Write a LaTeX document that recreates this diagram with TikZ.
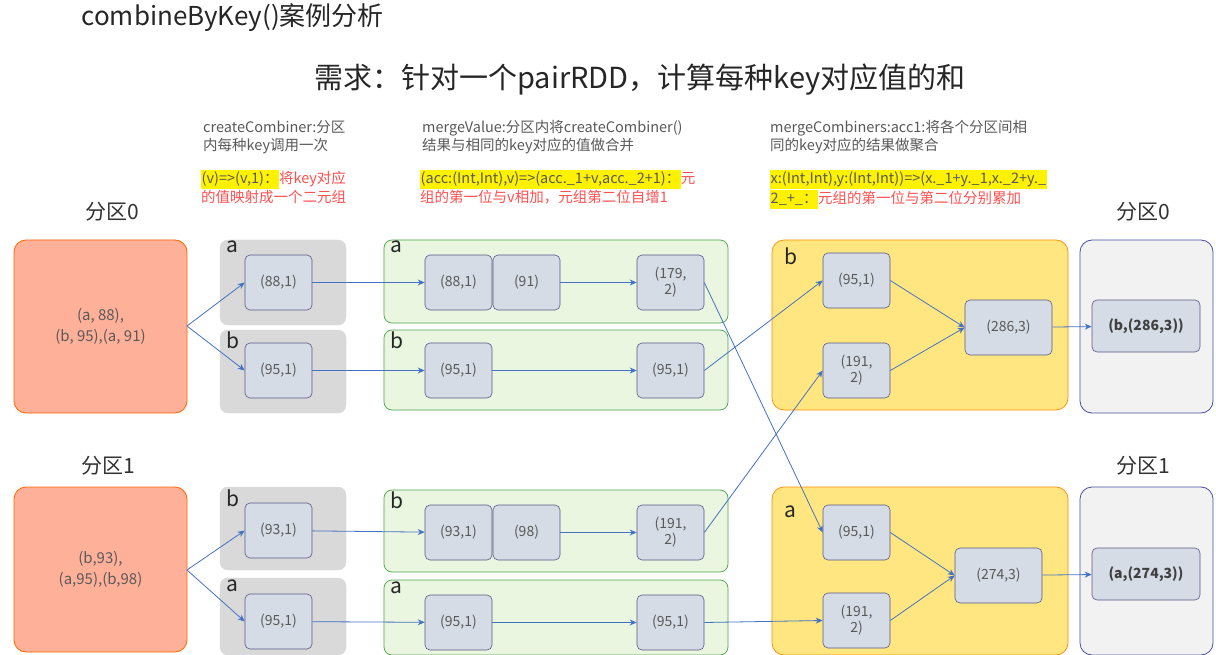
\documentclass[tikz,border=0pt]{standalone}
\usepackage{fontspec}
\setmainfont{Noto Sans CJK SC}
\usetikzlibrary{arrows.meta}
\definecolor{ablue}{HTML}{4472C4}
\definecolor{txt}{HTML}{595959}
\definecolor{rtxt}{HTML}{FF5050}
\definecolor{smfill}{HTML}{D6DCE5}
\setlength{\fboxsep}{0.5pt}
\newcommand{\hly}[1]{\colorbox{yellow}{\strut #1}}
\begin{document}
\begin{tikzpicture}[x=1pt,y=-1pt,
 part/.style={draw=#1,line width=0.8pt,rounded corners=12pt},
 sm/.style={draw=black!40!blue!30!gray,fill=smfill,line width=0.6pt,rounded corners=5pt,inner sep=1pt,font=\fontsize{14}{16}\selectfont,text=txt,align=center},
 arr/.style={-{Stealth[length=7pt,width=6pt]},draw=ablue,line width=0.8pt},
 lab/.style={font=\fontsize{21}{23}\selectfont,text=black!80},
 let/.style={font=\fontsize{21}{23}\selectfont,text=black!85,anchor=north west,inner sep=0pt},
 ann/.style={anchor=north west,align=left,font=\fontsize{14.5}{18}\selectfont,inner sep=0pt}]
\useasboundingbox (0,0) rectangle (1216,655);
\fill[white] (0,0) rectangle (1216,655);
% titles
\node[anchor=west,font=\fontsize{26}{30}\selectfont,text=black!85] (title) at (78,18) {combineByKey()案例分析};
\node[font=\fontsize{29}{34}\selectfont,text=black!85] (req) at (640,80) {需求：针对一个pairRDD，计算每种key对应值的和};
% annotations
\node[ann,text=txt] (c1) at (203,120) {createCombiner:分区\\内每种key调用一次};
\node[ann,text=rtxt] (c2) at (201,170) {\hly{\textcolor{txt}{(v)=>(v,1)：}}将key对应\\的值映射成一个二元组};
\node[ann,text=txt] (m1) at (422,120) {mergeValue:分区内将createCombiner()\\结果与相同的key对应的值做合并};
\node[ann,text=rtxt] (m2) at (420,170) {\hly{\textcolor{txt}{(acc:(Int,Int),v)=>(acc.\_1+v,acc.\_2+1)：}}元\\组的第一位与v相加，元组第二位自增1};
\node[ann,text=txt] (k1) at (770,120) {mergeCombiners:acc1:将各个分区间相\\同的key对应的结果做聚合};
\node[ann,text=rtxt] (k2) at (770,170) {\hly{\textcolor{txt}{x:(Int,Int),y:(Int,Int))=>(x.\_1+y.\_1,x.\_2+y.\_}}\\\hly{\textcolor{txt}{2\_+\_：}}元组的第一位与第二位分别累加};
% labels
\node[lab] (l0) at (112,212) {分区0};
\node[lab] (l1) at (108,466) {分区1};
\node[lab] (r0) at (1143,212) {分区0};
\node[lab] (r1) at (1143,466) {分区1};
% partitions
\node[part=orange!80!red,fill=orange!45!red!40,minimum width=173pt,minimum height=173pt,align=center,font=\fontsize{15}{21}\selectfont,text=txt] (p0) at (100.5,326.5) {(a, 88),\\(b, 95),(a, 91)};
\node[part=orange!80!red,fill=orange!45!red!40,minimum width=173pt,minimum height=165pt,align=center,font=\fontsize{15}{21}\selectfont,text=txt] (p1) at (100.5,569.5) {(b,93),\\(a,95),(b,98)};
% gray boxes
\foreach \ya/\yb in {240/325,330/413,487/570,578/655}
  \draw[fill=black!15,draw=black!15,rounded corners=8pt] (220,\ya) rectangle (346,\yb);
\node[let] at (226,241) {a};\node[let] at (226,332) {b};
\node[let] at (226,490) {b};\node[let] at (226,580) {a};
% green boxes
\foreach \ya/\yb in {240/323,330/410,490/572,580/655}
  \draw[fill=green!40!olive!12,draw=green!50!black!70,line width=0.7pt,rounded corners=8pt] (384,\ya) rectangle (728,\yb);
\node[let] at (390,241) {a};\node[let] at (390,332) {b};
\node[let] at (390,492) {b};\node[let] at (390,582) {a};
% orange boxes
\foreach \ya/\yb in {240/410,487/655}
  \draw[fill=orange!40!yellow!50,draw=orange!90!yellow,line width=0.7pt,rounded corners=12pt] (772,\ya) rectangle (1068,\yb);
\node[let] at (784,248) {b};\node[let] at (784,506) {a};
% result boxes
\foreach \ya/\yb in {240/413,487/655}
  \draw[fill=black!5,draw=blue!50!black!70,line width=0.8pt,rounded corners=12pt] (1080,\ya) rectangle (1213,\yb);
% small nodes
\tikzset{s/.style={sm,minimum width=67pt,minimum height=55pt}}
\node[s] (g1) at (278.5,282.5) {(88,1)};
\node[s] (g2) at (278.5,370.5) {(95,1)};
\node[s] (g3) at (278.5,530.5) {(93,1)};
\node[s] (g4) at (278.5,621.5) {(95,1)};
\node[s] (v1) at (458.5,282.5) {(88,1)};
\node[s] (v1b) at (526.5,282.5) {(91)};
\node[s] (v1c) at (670.5,282.5) {(179,\\2)};
\node[s] (v2) at (458.5,370.5) {(95,1)};
\node[s] (v2c) at (670.5,370.5) {(95,1)};
\node[s] (v3) at (458.5,532.5) {(93,1)};
\node[s] (v3b) at (526.5,532.5) {(98)};
\node[s] (v3c) at (670.5,532.5) {(191,\\2)};
\node[s] (v4) at (458.5,622.5) {(95,1)};
\node[s] (v4c) at (670.5,622.5) {(95,1)};
\node[s] (o1) at (856.5,280.5) {(95,1)};
\node[s] (o2) at (856.5,370.5) {(191,\\2)};
\node[s,minimum width=87pt] (o3) at (1008.5,327.5) {(286,3)};
\node[s] (o4) at (856.5,532.5) {(95,1)};
\node[s] (o5) at (856.5,620.5) {(191,\\2)};
\node[s,minimum width=87pt] (o6) at (998.5,575.5) {(274,3)};
\node[s,minimum width=108pt,minimum height=52pt,font=\bfseries\fontsize{14}{16}\selectfont,text=black!75] (res0) at (1146,326) {(b,(286,3))};
\node[s,minimum width=108pt,minimum height=52pt,font=\bfseries\fontsize{14}{16}\selectfont,text=black!75] (res1) at (1146,574) {(a,(274,3))};
% arrows
\coordinate (p0o) at (187,326);
\coordinate (p1o) at (187,570);
\draw[arr] (p0o) -- (g1.west);
\draw[arr] (p0o) -- (g2.west);
\draw[arr] (p1o) -- (g3.west);
\draw[arr] (p1o) -- (g4.west);
\draw[arr] (g1) -- (v1);
\draw[arr] (g2) -- (v2);
\draw[arr] (g3) -- (v3);
\draw[arr] (g4) -- (v4);
\draw[arr] (v1b) -- (v1c);
\draw[arr] (v2) -- (v2c);
\draw[arr] (v3b) -- (v3c);
\draw[arr] (v4) -- (v4c);
\draw[arr] (v1c.east) -- (o4.west);
\draw[arr] (v2c.east) -- (o1.west);
\draw[arr] (v3c.east) -- (o2.west);
\draw[arr] (v4c.east) -- (o5.west);
\draw[arr] (o1.east) -- (o3.west);
\draw[arr] (o2.east) -- (o3.west);
\draw[arr] (o4.east) -- (o6.west);
\draw[arr] (o5.east) -- (o6.west);
\draw[arr] (o3) -- (res0);
\draw[arr] (o6) -- (res1);
\end{tikzpicture}
\end{document}
